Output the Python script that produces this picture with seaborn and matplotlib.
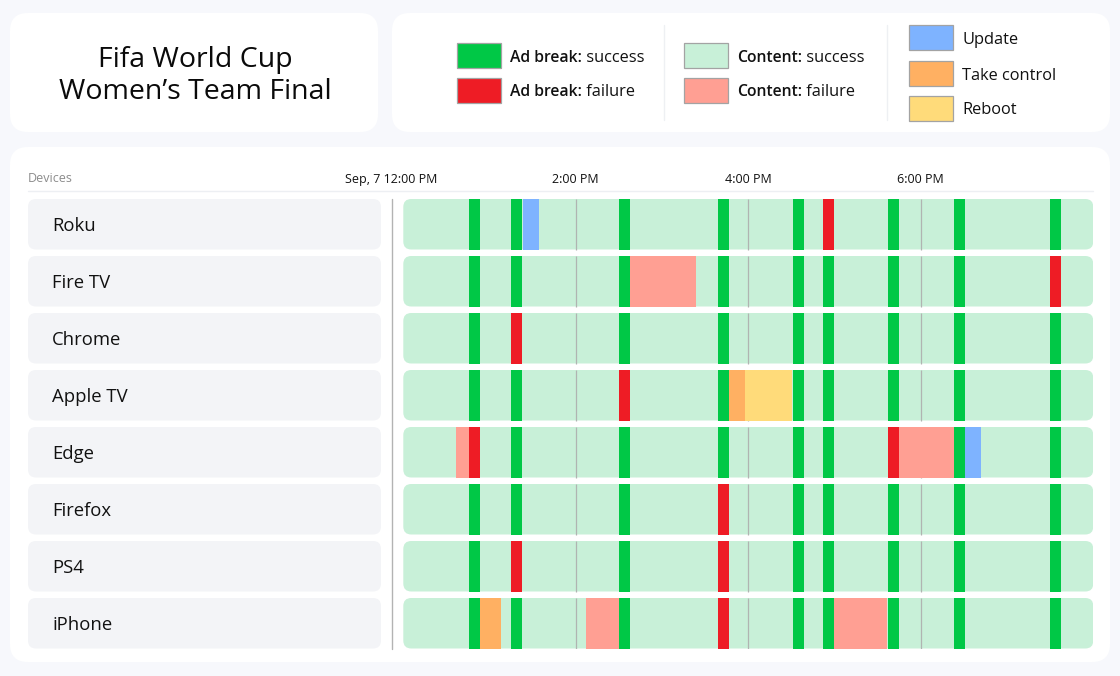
import numpy as np
import pandas as pd
import matplotlib.pyplot as plt
import seaborn as sns
from matplotlib.patches import FancyBboxPatch, Rectangle
from matplotlib.transforms import ScaledTranslation

sns.set_theme(style="white")
plt.rcParams['font.family'] = ['Open Sans', 'DejaVu Sans']

# ====================== DATA ======================
devices = ['Roku', 'Fire TV', 'Chrome', 'Apple TV', 'Edge', 'Firefox', 'PS4', 'iPhone']

# minutes after Sep 7, 12:00 PM
session_start, session_end = 0, 480
ad_starts = [46, 75, 150, 219, 271, 292, 337, 383, 450]
ad_len = 7.7

# 1 = ad break success, 0 = failure (one column per ad break, one row per device)
ad_ok = [
    [1, 1, 1, 1, 1, 0, 1, 1, 1],   # Roku
    [1, 1, 1, 1, 1, 1, 1, 1, 0],   # Fire TV
    [1, 0, 1, 1, 1, 1, 1, 1, 1],   # Chrome
    [1, 1, 0, 1, 1, 1, 1, 1, 1],   # Apple TV
    [0, 1, 1, 1, 1, 1, 0, 1, 1],   # Edge
    [1, 1, 1, 0, 1, 1, 1, 1, 1],   # Firefox
    [1, 0, 1, 0, 1, 1, 1, 1, 1],   # PS4
    [1, 1, 1, 0, 1, 1, 1, 1, 1],   # iPhone
]

event_device = ['Roku', 'Fire TV', 'Apple TV', 'Apple TV', 'Edge', 'Edge', 'Edge',
                'iPhone', 'iPhone', 'iPhone']
event_kind = ['Update', 'Content failure', 'Take control', 'Reboot', 'Content failure',
              'Content failure', 'Update', 'Take control', 'Content failure', 'Content failure']
event_start = [83, 157.7, 226.4, 237.7, 36.4, 344.7, 390.4, 53.7, 127, 299.7]
event_end = [94.4, 203.7, 237.7, 270.6, 46, 383, 402, 68.2, 150, 336.5]

tick_minutes = [0, 120, 240, 360]
tick_labels = ['Sep, 7 12:00 PM', '2:00 PM', '4:00 PM', '6:00 PM']
grid_minutes = [120, 240, 360]

colors = {
    'Ad success': '#00C846',
    'Ad failure': '#EE1C25',
    'Content success': '#C8F0D8',
    'Content failure': '#FF9F93',
    'Update': '#7EB3FF',
    'Take control': '#FFB062',
    'Reboot': '#FFDB7A',
}

# ====================== SEGMENTS ======================
rows = []
for d, res in zip(devices, ad_ok):
    for s, ok in zip(ad_starts, res):
        rows.append((d, 'Ad success' if ok else 'Ad failure', s, s + ad_len))
for d, k, s, e in zip(event_device, event_kind, event_start, event_end):
    rows.append((d, k, s, e))
seg = pd.DataFrame(rows, columns=['device', 'kind', 'start', 'end'])
seg['row'] = seg['device'].map({d: i for i, d in enumerate(devices)})
seg['dur'] = seg['end'] - seg['start']

# ====================== LAYOUT ======================
W, H = 1120, 676
BG = '#F7F8FC'
ROW_TOP, PITCH, ROW_H = 199, 57, 50.5
ROW_BOTTOM = ROW_TOP + (len(devices) - 1) * PITCH + ROW_H
bar_h = ROW_H / PITCH
ylims = (len(devices) - 1 + bar_h / 2, -bar_h / 2)

fig = plt.figure(figsize=(W / 100, H / 100), dpi=100, facecolor=BG)


def px_axes(x0, y0, x1, y1):
    a = fig.add_axes([x0 / W, 1 - y1 / H, (x1 - x0) / W, (y1 - y0) / H])
    a.set_facecolor('none')
    a.axis('off')
    return a


def round_box(ax, x, y, w, h, r_px, **kw):
    pos = ax.get_position()
    xa, xb = ax.get_xlim()
    ya, yb = ax.get_ylim()
    sx = pos.width * W / abs(xb - xa)
    sy = pos.height * H / abs(yb - ya)
    p = FancyBboxPatch((x, y), w, h, boxstyle=f"round,pad=0,rounding_size={r_px / sx}",
                       mutation_aspect=sx / sy, linewidth=0, **kw)
    ax.add_patch(p)
    return p


# background canvas in pixel units
bg = px_axes(0, 0, W, H)
bg.set_xlim(0, W)
bg.set_ylim(H, 0)
round_box(bg, 10, 13, 368, 119, 18, color='white')
round_box(bg, 392, 13, 718, 119, 18, color='white')
round_box(bg, 10, 147, 1100, 515, 18, color='white')

bg.text(195, 76, 'Fifa World Cup\nWomen\u2019s Team Final', ha='center', va='center',
        fontsize=20.5, fontweight='medium', linespacing=1.2, color='#0A0A0A')

# legend
legend_items = [
    ('Ad break:', 'success', 'Ad success', 457, 43),
    ('Ad break:', 'failure', 'Ad failure', 457, 78),
    ('Content:', 'success', 'Content success', 684, 43),
    ('Content:', 'failure', 'Content failure', 684, 78),
    ('', 'Update', 'Update', 909, 25),
    ('', 'Take control', 'Take control', 909, 61),
    ('', 'Reboot', 'Reboot', 909, 96),
]
for bold, rest, key, lx, ly in legend_items:
    bg.add_patch(Rectangle((lx, ly), 44, 25, facecolor=colors[key], edgecolor='#A3A3A3', lw=0.9))
    if bold:
        t = bg.text(lx + 53, ly + 14.5, bold, va='center', fontsize=11.3, fontweight='semibold',
                    color='#111111')
        bg.annotate(' ' + rest, xy=(1, 0), xycoords=t, va='bottom', ha='left', fontsize=11.8,
                    color='#111111')
    else:
        bg.text(lx + 53, ly + 14.5, rest, va='center', fontsize=11.8, color='#111111')
for sx_ in [664, 887]:
    bg.plot([sx_, sx_], [25, 120], color='#EEF0F3', lw=1)

# table header
bg.text(28, 178, 'Devices', va='center', fontsize=9, color='#8C8C8C')
bg.plot([28, 1093], [190.5, 190.5], color='#EDEFF3', lw=1)
bg.plot([391.5, 391.5], [ROW_TOP, ROW_BOTTOM], color='#B3B3B3', lw=1)

# device labels
lab = px_axes(28, ROW_TOP, 381, ROW_BOTTOM)
lab.set_xlim(0, 1)
lab.set_ylim(*ylims)
for i, d in enumerate(devices):
    round_box(lab, 0, i - bar_h / 2, 1, bar_h, 8, color='#F3F4F7')
    lab.annotate(d, xy=(0, i), xytext=(24, -2), textcoords='offset pixels', va='center',
                 fontsize=13.3, fontweight='medium', color='#111111')

# timeline
ax = px_axes(403.3, ROW_TOP, 1093.3, ROW_BOTTOM)
ax.axis('on')
for sp in ax.spines.values():
    sp.set_visible(False)
ax.set_xlim(session_start, session_end)
ax.set_ylim(*ylims)
ax.set_yticks([])
ax.xaxis.tick_top()
ax.set_xticks(tick_minutes, tick_labels)
ax.tick_params(axis='x', length=0, pad=9.5, labelsize=9)
for t in ax.get_xticklabels():
    t.set_color('#111111')
    t.set_fontweight('medium')
first = ax.get_xticklabels()[0]
first.set_transform(first.get_transform() + ScaledTranslation(-12 / 100, 0, fig.dpi_scale_trans))

for i in range(len(devices)):
    round_box(ax, session_start, i - bar_h / 2, session_end - session_start, bar_h, 8,
              color=colors['Content success'], zorder=1)
ax.vlines([g for g in grid_minutes for _ in devices],
          [i - bar_h / 2 for _ in grid_minutes for i in range(len(devices))],
          [i + bar_h / 2 for _ in grid_minutes for i in range(len(devices))],
          color='#B0B4B1', lw=0.9, zorder=2)
ax.barh(seg['row'], seg['dur'], left=seg['start'], height=bar_h,
        color=seg['kind'].map(colors), linewidth=0, zorder=3)

fig.savefig('out.png', dpi=100, facecolor=BG)
